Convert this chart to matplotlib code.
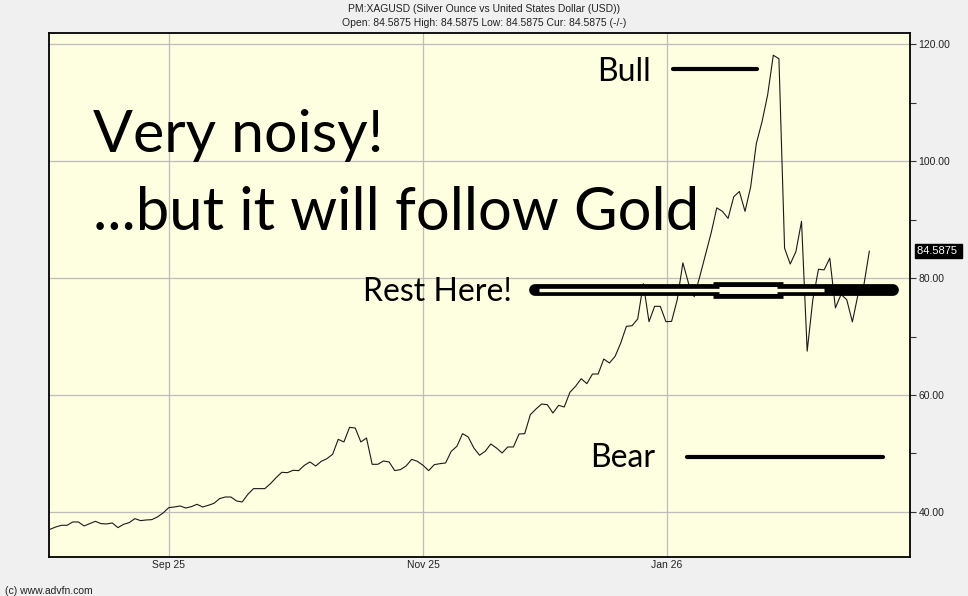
import matplotlib
matplotlib.use('Agg')
import matplotlib.pyplot as plt
import matplotlib.transforms as mtransforms
from matplotlib.ticker import MultipleLocator, FormatStrFormatter

# daily silver price (USD), one value per trading day
prices = [
    37.04, 37.44, 37.72, 37.72, 38.29, 38.29, 37.61, 38.01, 38.40, 38.01,
    37.95, 38.12, 37.32, 37.89, 38.18, 38.86, 38.52, 38.63, 38.69, 39.15,
    39.83, 40.74, 40.85, 41.03, 40.68, 40.91, 41.31, 40.85, 41.14, 41.48,
    42.28, 42.56, 42.56, 41.88, 41.71, 43.02, 43.99, 43.99, 43.99, 44.84,
    45.87, 46.78, 46.72, 47.12, 47.07, 47.98, 48.55, 47.86, 48.66, 49.12,
    49.86, 52.42, 51.97, 54.47, 54.36, 51.97, 52.65, 48.15, 48.15, 48.72,
    48.55, 47.07, 47.24, 47.86, 49.00, 48.66, 47.98, 47.07, 48.09, 48.26,
    48.38, 50.37, 51.23, 53.39, 52.82, 50.94, 49.70,
    50.37, 51.62, 50.94, 50.09, 51.11, 51.11, 53.33, 53.39, 56.64, 57.61,
    58.46, 58.35, 56.92, 58.23, 57.95, 60.46, 61.48, 62.79, 61.94, 63.59,
    63.59, 66.15, 65.47, 66.61, 68.89, 71.74, 71.85, 72.99, 79.03, 72.54,
    75.16, 75.16, 72.54, 72.59,
    76.3, 82.6, 79.1, 76.8, 80.3, 84.0, 87.7, 92.0, 91.4, 90.2,
    93.9, 94.8, 91.4, 95.6, 103.0, 106.7, 111.3, 118.1, 117.5, 85.1,
    82.4, 84.5, 89.7, 67.5, 76.3, 81.5, 81.4, 83.4, 74.9, 77.2,
    76.3, 72.5, 77.2, 78.6, 84.5875,
]
days = list(range(len(prices)))

# month labels and the trading-day index they sit on
month_labels = ['Sep 25', 'Nov 25', 'Jan 26']
month_pos = [21, 66, 109.2]

last_price = 84.5875

# hand drawn levels on the chart: (start day, end day, price)
bull_level = (110.3, 125.1, 115.7)
bear_level = (112.7, 147.4, 49.4)
rest_level = (85.8, 149.2, 77.9)

bg = '#fefee0'

fig = plt.figure(figsize=(9.68, 5.96), dpi=100, facecolor='#f0f0f0')
ax = fig.add_axes([49 / 968, 1 - 557 / 596, 861 / 968, 524 / 596])
ax.set_facecolor(bg)

ax.plot(days, prices, color='#1a1a1a', lw=0.8, zorder=3)

ax.set_xlim(-0.2, 152.2)
ax.set_ylim(32.3, 121.9)

# axes styling like the advfn chart
ax.yaxis.tick_right()
ax.yaxis.set_major_locator(MultipleLocator(20))
ax.yaxis.set_minor_locator(MultipleLocator(10))
ax.yaxis.set_major_formatter(FormatStrFormatter('%.2f'))
ax.tick_params(axis='y', which='both', direction='out', length=4, width=0.8,
               labelsize=7.5, pad=2, colors='#333333', labelcolor='#222222')
ax.set_xticks(month_pos)
ax.set_xticklabels(month_labels)
ax.tick_params(axis='x', length=0, labelsize=7.5, pad=2, labelcolor='#222222')
for lab in ax.get_xticklabels() + ax.get_yticklabels():
    lab.set_family('Liberation Sans')
ax.grid(True, which='major', color='#bdbdbd', lw=0.9)
ax.set_axisbelow(True)
for sp in ax.spines.values():
    sp.set_color('black')
    sp.set_linewidth(1.3)

# current price tag on the right
trans = mtransforms.blended_transform_factory(ax.transAxes, ax.transData)
ax.text(1.008, last_price, f'{last_price:.4f} ', transform=trans, va='center',
        ha='left', fontsize=8, color='white', family='Liberation Sans',
        bbox=dict(boxstyle='square,pad=0.2', fc='black', ec='black'))

# titles
fig.text(0.5, 0.993, 'PM:XAGUSD (Silver Ounce vs United States Dollar (USD))',
         ha='center', va='top', fontsize=7.5, family='Liberation Sans', color='#222222')
fig.text(0.5, 0.970, 'Open: 84.5875 High: 84.5875 Low: 84.5875 Cur: 84.5875 (-/-)',
         ha='center', va='top', fontsize=7.5, family='Liberation Sans', color='#222222')
fig.text(0.005, 0.0, '(c) www.advfn.com', ha='left', va='bottom', fontsize=7.5,
         family='Liberation Sans', color='#222222')

# annotations
font = 'Lato'
fig.text(93 / 968, 1 - 152 / 596, 'Very noisy!', fontsize=42.5, family=font,
         ha='left', va='baseline')
fig.text(93 / 968, 1 - 230 / 596, '...but it will follow Gold', fontsize=43,
         family=font, ha='left', va='baseline')
fig.text(651 / 968, 1 - 81 / 596, 'Bull', fontsize=23, family=font,
         ha='right', va='baseline')
fig.text(512 / 968, 1 - 301 / 596, 'Rest Here!', fontsize=23, family=font,
         ha='right', va='baseline')
fig.text(655 / 968, 1 - 467 / 596, 'Bear', fontsize=23, family=font,
         ha='right', va='baseline')

for x0, x1, y in (bull_level, bear_level):
    ax.plot([x0, x1], [y, y], color='black', lw=3, solid_capstyle='round', zorder=5)

# hollow "rest" bar with the bulge in the middle
x0, x1, y = rest_level
ax.plot([x0, x1], [y, y], color='black', lw=8.5, solid_capstyle='round', zorder=5)
ax.plot([117.3, 129.7], [y, y], color='black', lw=12, solid_capstyle='butt', zorder=5)
ax.plot([x0 + 0.8, 137.0], [y, y], color=bg, lw=2.4, solid_capstyle='butt', zorder=6)
ax.plot([118.4, 128.6], [y, y], color=bg, lw=5, solid_capstyle='butt', zorder=6)

fig.savefig('out.png', dpi=100, facecolor=fig.get_facecolor())
